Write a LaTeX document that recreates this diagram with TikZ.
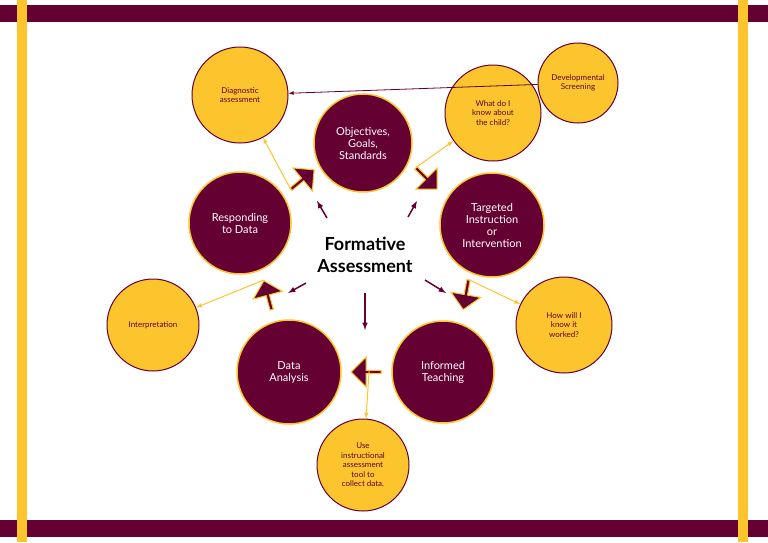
\documentclass[tikz,border=0pt]{standalone}
\usepackage{fontspec}
\setmainfont{Lato}
\usepackage{tikz}
\usetikzlibrary{positioning,shapes.arrows}
\definecolor{maroon}{RGB}{100,0,50}
\definecolor{gold}{RGB}{252,196,45}
\begin{document}
\begin{tikzpicture}[x=1pt,y=-1pt,
    big/.style={circle, fill=maroon, draw=gold, line width=1.5pt, text=white, align=center, font=\fontsize{11}{12}\selectfont, inner sep=0pt},
    small/.style={circle, fill=gold, draw=maroon, line width=1pt, text=maroon, align=center, font=\fontsize{8}{9.5}\selectfont, inner sep=0pt},
    block/.style={single arrow, fill=maroon, draw=gold, line width=1pt, minimum height=30pt, minimum width=30pt, single arrow head extend=4pt, inner sep=0pt},
    thin/.style={->, >=latex, maroon, line width=1.5pt},
    hint/.style={->, >=latex, gold, line width=1pt}]
    \useasboundingbox (0,0) rectangle (768,542);
    \fill[maroon] (0,5) rectangle (768,22);
    \fill[maroon] (0,520) rectangle (768,537);
    \fill[gold] (17,0) rectangle (27,542);
    \fill[gold] (738,0) rectangle (748,542);
    % steps of the cycle
    \node[big, minimum size=98pt] (goals) at (363,143) {Objectives,\\Goals,\\Standards};
    \node[big, minimum size=104pt] (target) at (492,225) {Targeted\\Instruction\\or\\Intervention};
    \node[big, minimum size=102pt] (teach) at (443,372) {Informed\\Teaching};
    \node[big, minimum size=104pt] (analysis) at (289,372) {Data\\Analysis};
    \node[big, minimum size=102pt] (respond) at (240,223) {Responding\\to Data};
    % questions
    \node[small, minimum size=96pt] (diag) at (240,95) {Diagnostic\\assessment};
    \node[small, minimum size=96pt] (know) at (493,113) {What do I\\know about\\the child?};
    \node[small, minimum size=80pt] (screen) at (578,83) {Developmental\\Screening};
    \node[small, minimum size=96pt] (worked) at (564,325) {How will I\\know it\\worked?};
    \node[small, minimum size=92pt] (tool) at (363,465) {Use\\instructional\\assessment\\tool to\\collect data.};
    \node[small, minimum size=92pt] (interp) at (153,325) {Interpretation};
    \node[font=\bfseries\fontsize{18}{22}\selectfont, align=center] (fa) at (365,255) {Formative\\Assessment};
    % links between the steps
    \node[block, rotate=40] (b1) at (302,180) {};
    \node[block, rotate=-45] (b2) at (426,178) {};
    \node[block, rotate=-100] (b3) at (466,294) {};
    \node[block, rotate=180] (b4) at (367,372) {};
    \node[block, rotate=105] (b5) at (268,296) {};
    \coordinate (c1) at (327,218); \coordinate (c2) at (408,217);
    \coordinate (c3) at (425,280); \coordinate (c4) at (365,293);
    \coordinate (c5) at (306,283);
    \draw[thin] (c1) -- (317,201);
    \draw[thin] (c2) -- (417,201);
    \draw[thin] (c3) -- (446,293);
    \draw[thin] (c4) -- (365,330);
    \draw[thin] (c5) -- (288,293);
    \draw[->, >=latex, maroon, line width=0.8pt] (screen) -- (diag);
    \draw[hint] (b1.west) -- (diag);
    \draw[hint] (b2.west) -- (know);
    \draw[hint] (b3.west) -- (worked);
    \draw[hint] (b4.south west) -- (tool);
    \draw[hint] (b5.east) -- (interp);
\end{tikzpicture}
\end{document}
